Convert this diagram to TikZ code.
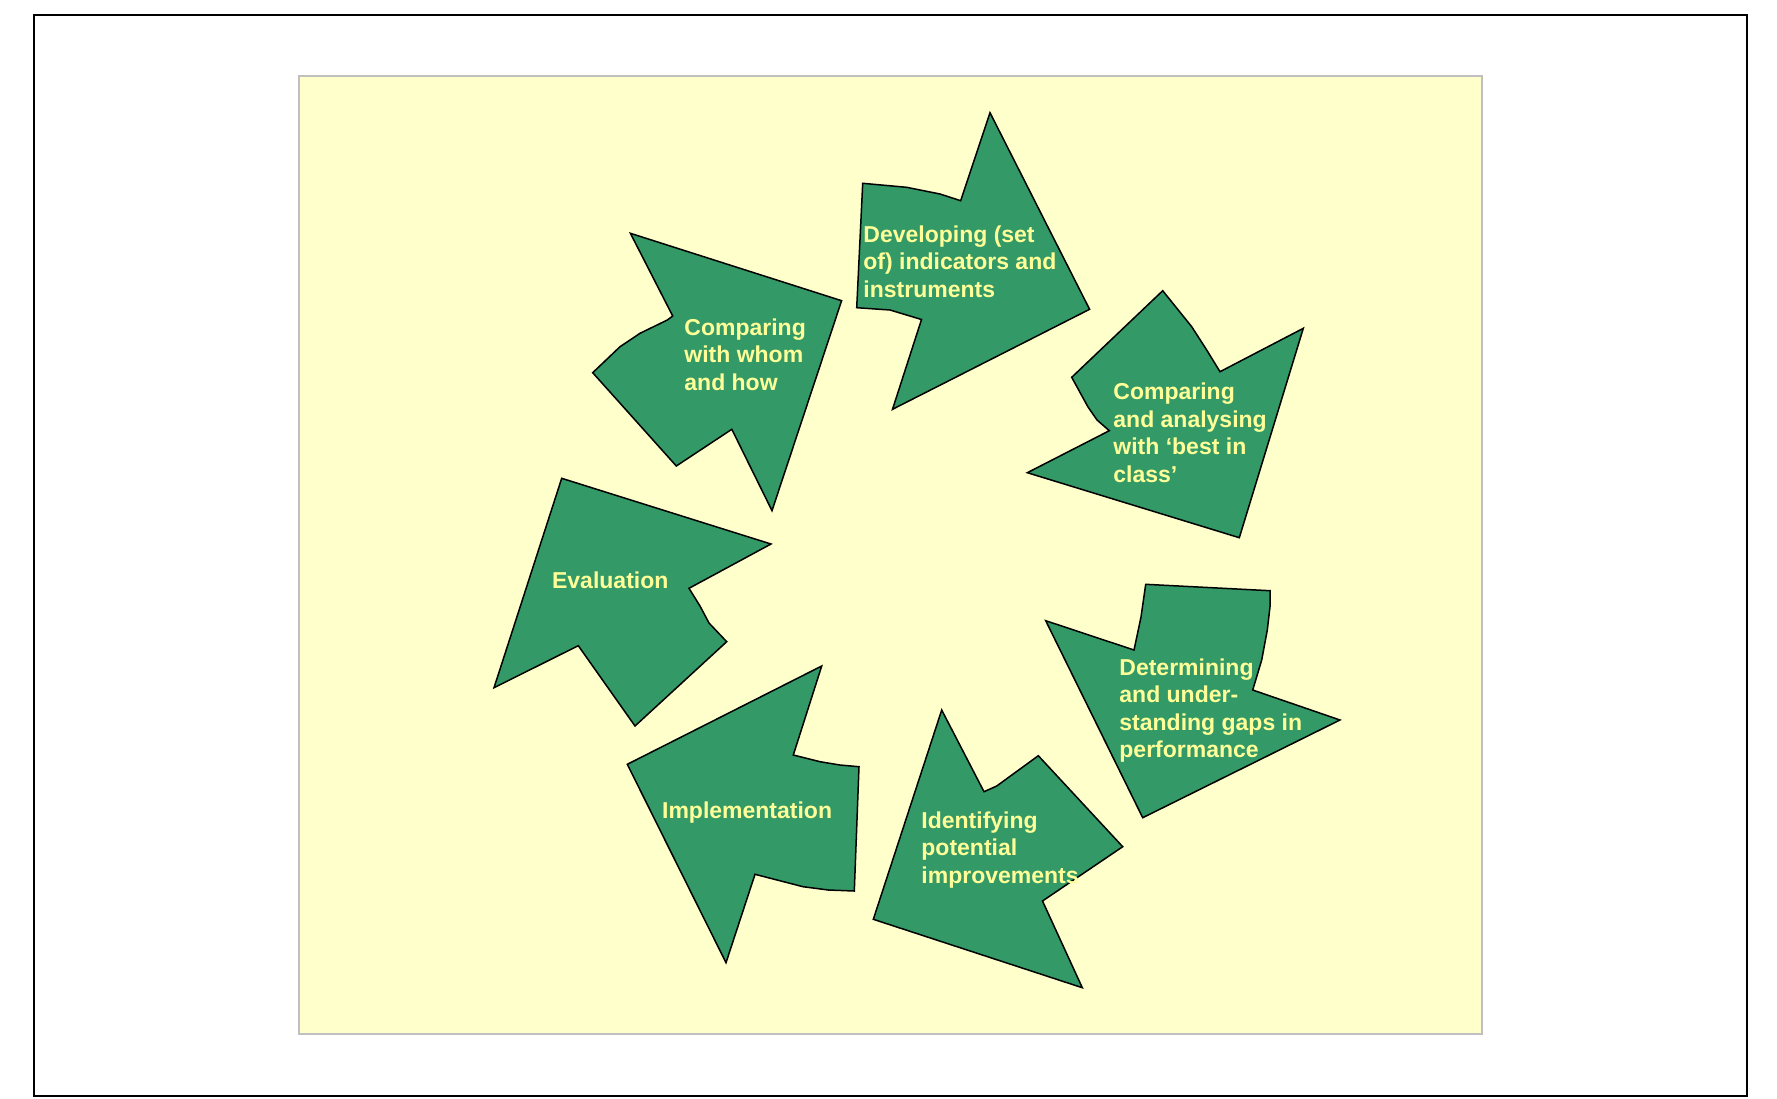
\documentclass[tikz,border=0pt]{standalone}
\usepackage{fontspec}
\setmainfont{Liberation Sans}
\definecolor{arrowgreen}{HTML}{339966}
\definecolor{labelyellow}{HTML}{FFFF99}
\definecolor{paneyellow}{HTML}{FFFFCC}
\definecolor{panegray}{HTML}{C0C0C0}
\begin{document}
\begin{tikzpicture}[x=0.5pt,y=-0.5pt,
  cyclearrow/.style={fill=arrowgreen,draw=black,line width=0.75pt,line join=miter},
  lbl/.style={anchor=base west,inner sep=0pt,text=labelyellow,
    font=\fontsize{11.5}{13.75}\selectfont\bfseries}]
\useasboundingbox (0,0) rectangle (1777,1098);
% outer frame and pane
\draw[line width=1pt] (34,15) rectangle (1747,1096);
\draw[fill=paneyellow,draw=panegray,line width=1pt] (299,76) rectangle (1482,1034);
% Comparing with whom and how
\path[cyclearrow] (630.4,233.3) -- (841.6,300.7) -- (772,510.7) -- (731.8,429.3)
  -- (676.3,466) -- (592.7,372.7) -- (620,346.7) -- (640,333.3) -- (667.3,320)
  -- (672.7,316) -- cycle;
% Developing
\path[cyclearrow] (990,112.7) -- (1089.6,309.3) -- (892.5,409.3) -- (921.5,319.5)
  -- (890,310) -- (856.7,307.7) -- (862.7,183.3) -- (906.7,187.3) -- (940,194)
  -- (960.7,200.7) -- cycle;
% Comparing and analysing
\path[cyclearrow] (1303.3,328.3) -- (1239.3,537.7) -- (1027.3,472.7) -- (1109.3,430.7)
  -- (1097,420) -- (1088,407) -- (1071.7,377.3) -- (1162.7,290.7) -- (1191.7,326.7)
  -- (1206.7,350) -- (1220,371.7) -- cycle;
% Determining
\path[cyclearrow] (1340,720) -- (1142.7,817.7) -- (1045.7,620.7) -- (1134,650)
  -- (1141,617) -- (1145.7,584.3) -- (1270,590.7) -- (1270,606.7) -- (1267.3,630)
  -- (1261.7,660) -- (1252.7,690) -- cycle;
% Identifying
\path[cyclearrow] (941.7,710) -- (984,791.7) -- (996.7,786) -- (1038.3,755.7)
  -- (1122.7,846.7) -- (1042.5,901) -- (1082.3,987.7) -- (873.3,919.3) -- cycle;
% Implementation
\path[cyclearrow] (821.7,666) -- (793.3,755) -- (820,761.7) -- (840,765) -- (859,766.7)
  -- (854.3,891) -- (828.3,890) -- (803,886.7) -- (755,874.3) -- (726,962.7)
  -- (627.3,764.3) -- cycle;
% Evaluation
\path[cyclearrow] (561.7,478.3) -- (771,544) -- (689,588.3) -- (700,606)
  -- (709,623) -- (726.7,641.7) -- (635,726) -- (578.3,645.7) -- (494,687.7) -- cycle;
% labels
\node[lbl] (whom) at (684,335) {\begin{tabular}[t]{@{}l@{}}Comparing\\with whom\\and how\end{tabular}};
\node[lbl] (dev) at (863,242) {\begin{tabular}[t]{@{}l@{}}Developing (set\\of) indicators and\\instruments\end{tabular}};
\node[lbl] (best) at (1113,399.5) {\begin{tabular}[t]{@{}l@{}}Comparing\\and analysing\\with ‘best in\\class’\end{tabular}};
\node[lbl] (gaps) at (1119,675) {\begin{tabular}[t]{@{}l@{}}Determining\\and under-\\standing gaps in\\performance\end{tabular}};
\node[lbl] (ident) at (921,828) {\begin{tabular}[t]{@{}l@{}}Identifying\\potential\\improvements\end{tabular}};
\node[lbl] (impl) at (661.7,818.3) {Implementation};
\node[lbl] (eval) at (551.7,588.3) {Evaluation};
\end{tikzpicture}
\end{document}
